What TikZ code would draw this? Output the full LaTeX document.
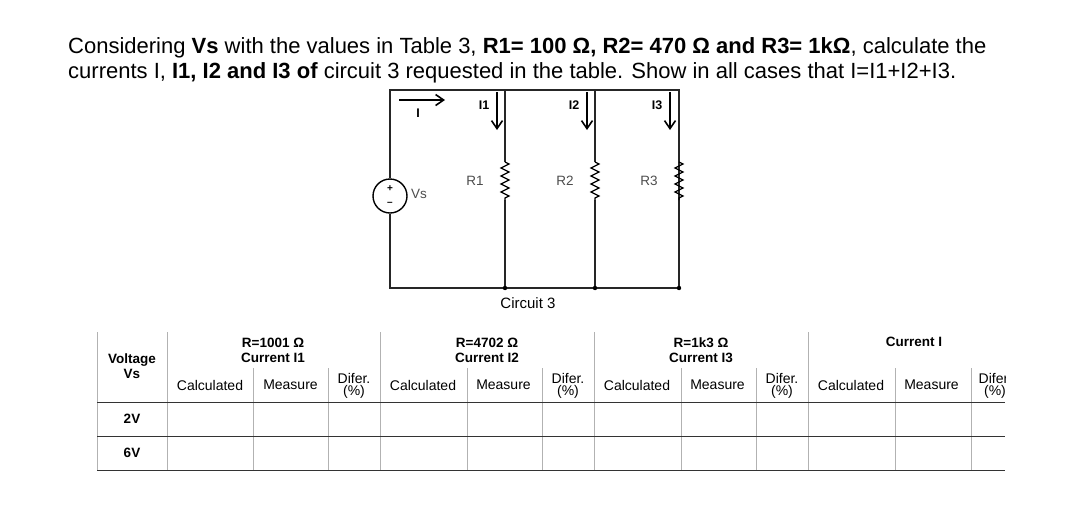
\documentclass[tikz,border=0pt]{standalone}
\usepackage{fontspec}
\setmainfont{Liberation Sans}
\usetikzlibrary{arrows.meta,decorations.pathmorphing}
\begin{document}
\begin{tikzpicture}[x=1pt,y=-1pt,
  wire/.style={line width=1.3pt,black!85},
  cur/.style={line width=1.6pt,-{Straight Barb[length=8pt,width=11pt]}},
  vl/.style={gray!60,line width=0.8pt},
  hl/.style={black!80,line width=0.9pt},
  thb/.style={font=\bfseries\fontsize{13.5}{15}\selectfont},
  cl/.style={font=\fontsize{14}{15}\selectfont}]
\useasboundingbox (0,0) rectangle (1080,523);
\node[anchor=base west,inner sep=0,font=\fontsize{22}{24}\selectfont] (t1) at (68,53) {Considering \textbf{Vs} with the values in Table 3, \textbf{R1= 100 Ω, R2= 470 Ω and R3= 1kΩ}, calculate the};
\node[anchor=base west,inner sep=0,font=\fontsize{22}{24}\selectfont] (t2) at (68,78) {currents I, \textbf{I1, I2 and I3 of} circuit 3 requested in the table. Show in all cases that I=I1+I2+I3.};
% circuit
\coordinate (tl) at (390,90); \coordinate (bl) at (390,288);
\coordinate (t3c) at (679,90); \coordinate (b3c) at (679,288);
\node[circle,draw,line width=1.4pt,minimum size=34pt,inner sep=0] (vs) at (390,196) {};
\node[font=\fontsize{10}{10}\selectfont\bfseries,inner sep=0] (pl) at (390,189) {+};
\node[font=\fontsize{10}{10}\selectfont\bfseries,inner sep=0] (mn) at (390,204) {–};
\draw[wire] (vs.north) -- (tl) -- (t3c) -- (b3c) -- (bl) -- (vs.south);
\foreach \x/\n in {505/1,595/2,679/3}{
  \coordinate (ra\n) at (\x,162); \coordinate (rb\n) at (\x,200);
  \draw[wire] (\x,90) -- (ra\n);
  \draw[wire] (rb\n) -- (\x,288);
  \draw[line width=1.2pt,decorate,decoration={zigzag,segment length=8pt,amplitude=4pt}] (ra\n) -- (rb\n);
  \fill (\x,288) circle (2.2pt);
  \node[font=\fontsize{13.5}{14}\selectfont,text=black!70] (rl\n) at (\x-30,181) {R\n};
}
\coordinate (ia) at (399,100); \coordinate (ib) at (445,100);
\draw[cur] (ia) -- (ib);
\node[font=\rmfamily\bfseries\fontsize{12.5}{12}\selectfont] (il) at (418,113) {I};
\foreach \x/\n in {497/1,587/2,670/3}{
  \coordinate (ca\n) at (\x,92); \coordinate (cb\n) at (\x,130);
  \draw[cur] (ca\n) -- (cb\n);
  \node[font=\rmfamily\bfseries\fontsize{12.5}{12}\selectfont] (cl\n) at (\x-13,105) {I\n};
}
\node[font=\fontsize{13.5}{14}\selectfont,text=black!70] (vsl) at (419,194) {Vs};
\node[font=\fontsize{15}{15}\selectfont] (c3) at (528,303) {Circuit 3};
% table
\foreach \x in {167,380,594,808}{\draw[vl] (\x,332) -- (\x,470);}
\foreach \x in {253,328,467,542,681,756,895,971}{\draw[vl] (\x,368) -- (\x,470);}
\draw[vl] (97,332) -- (97,470);
\foreach \y in {402,436,470}{\draw[hl] (97,\y) -- (1005,\y);}
\node[thb,align=center] (vh) at (132,366) {Voltage\\Vs};
\node[thb,align=center] (h1) at (273,350) {R=1001 Ω\\Current I1};
\node[thb,align=center] (h2) at (487,350) {R=4702 Ω\\Current I2};
\node[thb,align=center] (h3) at (701,350) {R=1k3 Ω\\Current I3};
\node[thb] (h4) at (914,342) {Current I};
\foreach \s in {167,380,594,808}{
  \node[cl] at (\s+43,385) {Calculated};
  \node[cl] at (\s+123.5,385) {Measure};
}
\foreach \s in {354,568,782}{\node[cl,align=center] at (\s,386) {Difer.\\[-3pt](\%)};}
\begin{scope}
\clip (971,360) rectangle (1005,410);
\node[cl,align=center] at (995,386) {Difer.\\[-3pt](\%)};
\end{scope}
\node[thb] (r2) at (132,419) {2V};
\node[thb] (r6) at (132,453) {6V};
\end{tikzpicture}
\end{document}
